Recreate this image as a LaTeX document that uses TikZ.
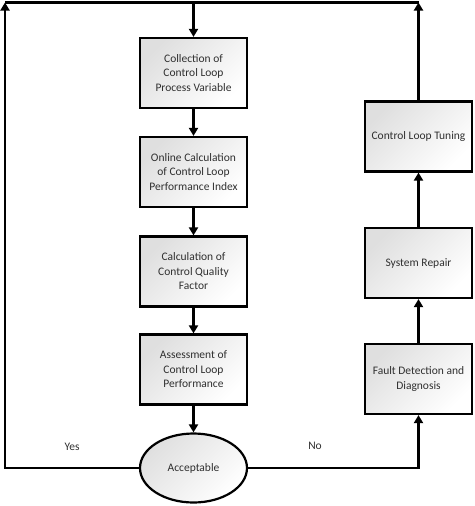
\documentclass[tikz,border=0pt]{standalone}
\usepackage{fontspec}
\setmainfont{Carlito}
\usetikzlibrary{arrows.meta,shapes.geometric}
\definecolor{txt}{HTML}{303030}
\begin{document}
\begin{tikzpicture}[x=1pt,y=-1pt,
  box/.style={draw=black,line width=2.2pt,minimum width=107pt,minimum height=70pt,inner sep=0pt,
    left color=gray!25,right color=white,shading angle=45,text=txt,align=center,
    font=\fontsize{11.5}{14.5}\selectfont},
  oval/.style={ellipse,draw=black,line width=2.2pt,minimum width=107pt,minimum height=69pt,inner sep=0pt,
    left color=gray!25,right color=white,shading angle=45,text=txt,font=\fontsize{11.5}{14.5}\selectfont},
  lbl/.style={text=txt,font=\fontsize{11.5}{14.5}\selectfont},
  conn/.style={line width=2.2pt},
  arr/.style={conn,-{Triangle[length=8pt,width=9pt]}}]
\useasboundingbox (0,0) rectangle (474,506);
\node[box] (b1) at (193.5,73) {Collection of\\Control Loop\\Process Variable};
\node[box] (b2) at (193.5,172) {Online Calculation\\of Control Loop\\Performance Index};
\node[box] (b3) at (193.5,271.5) {Calculation of\\Control Quality\\Factor};
\node[box] (b4) at (193.5,369.5) {Assessment of\\Control Loop\\Performance};
\node[oval] (acc) at (193.5,468) {Acceptable};
\node[box] (tune) at (418.5,136.5) {Control Loop Tuning};
\node[box] (rep) at (418.5,263) {System Repair};
\node[box] (fault) at (418.5,379) {Fault Detection and\\Diagnosis};
\node[lbl] (yes) at (72,447) {Yes};
\node[lbl] (no) at (315,446) {No};
\coordinate (tl) at (5,2.5);
\coordinate (tr) at (418.5,2.5);
\coordinate (tc) at (193.5,2.5);
\draw[conn] (tl) -- (tr);
\draw[arr] (tc) -- (b1);
\draw[arr] (b1) -- (b2);
\draw[arr] (b2) -- (b3);
\draw[arr] (b3) -- (b4);
\draw[arr] (b4) -- (acc);
\draw[arr] (acc.west) -| (tl);
\draw[arr] (acc.east) -| (fault.south);
\draw[arr] (fault) -- (rep);
\draw[arr] (rep) -- (tune);
\draw[arr] (tune.north) -- (tr);
\end{tikzpicture}
\end{document}
